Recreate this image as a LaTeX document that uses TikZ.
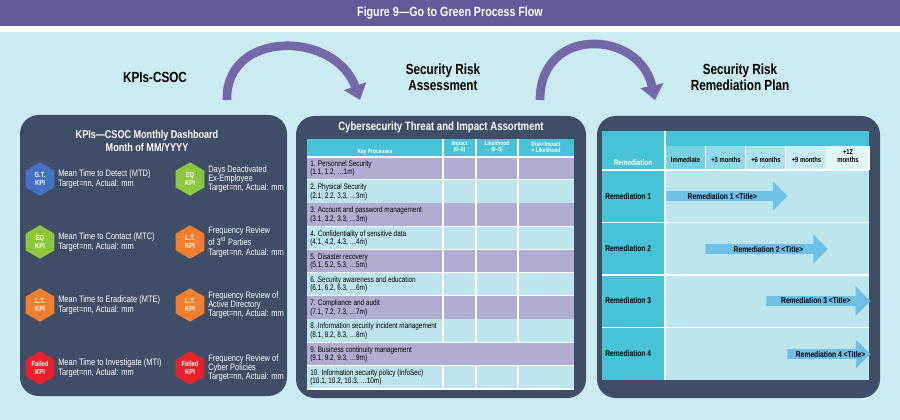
\documentclass[tikz,border=0pt]{standalone}
\usepackage{fontspec}
\setmainfont{Liberation Sans}[FakeStretch=0.8]
\usetikzlibrary{shapes.geometric,arrows.meta,shapes.arrows}
\definecolor{bgc}{HTML}{CDEBF2}
\definecolor{ttl}{HTML}{645A97}
\definecolor{pan}{HTML}{3F4E66}
\definecolor{cyh}{HTML}{48C2D6}
\definecolor{rowp}{HTML}{B1ADD0}
\definecolor{rowc}{HTML}{BDE5EE}
\definecolor{arrb}{HTML}{6EC0E6}
\definecolor{arcp}{HTML}{7468A8}
\definecolor{kblue}{HTML}{4472C4}
\definecolor{kgreen}{HTML}{8DC63F}
\definecolor{korange}{HTML}{F08030}
\definecolor{kred}{HTML}{E8202A}
\tikzset{
 hex/.style={regular polygon,regular polygon sides=6,shape border rotate=30,minimum size=25pt,inner sep=0pt,text=white,font=\bfseries\fontsize{5.5}{5.5}\selectfont,align=center},
 kt/.style={anchor=west,text=white,font=\fontsize{7}{7}\selectfont,align=left,inner sep=0pt},
 head/.style={font=\bfseries\fontsize{11}{12}\selectfont,align=center},
 panel/.style={fill=pan,rounded corners=14pt},
 rt/.style={anchor=west,font=\fontsize{6}{6.4}\selectfont,align=left,inner sep=0pt},
 ht/.style={font=\bfseries\fontsize{4.6}{4.6}\selectfont,align=center,text=white},
 bigarc/.style={line width=6.5pt,draw=arcp,-{Triangle[length=11pt,width=17pt]}},
 rem/.style={single arrow,fill=arrb,minimum height=#1,minimum width=22pt,single arrow head extend=5pt,single arrow head indent=0pt,inner sep=0pt,anchor=west,font=\bfseries\fontsize{6.3}{6.3}\selectfont},
 rl/.style={anchor=west,font=\bfseries\fontsize{6.3}{6.3}\selectfont,inner sep=0pt}
}
\begin{document}
\begin{tikzpicture}[x=0.75pt,y=-0.75pt]
\fill[bgc] (0,0) rectangle (900,420);
\useasboundingbox (0,0) rectangle (900,420);
\fill[white] (0,26) rectangle (900,32);
\fill[ttl] (0,0) rectangle (900,26);
\node[text=white,font=\bfseries\fontsize{10}{10}\selectfont] (title) at (450,13) {Figure 9—Go to Green Process Flow};
\node[head] (h1) at (155,77) {KPIs-CSOC};
\node[head] (h2) at (443,77) {Security Risk\\Assessment};
\node[head] (h3) at (740,77) {Security Risk\\Remediation Plan};
\coordinate (a1s) at (227,100); \coordinate (a1e) at (360,100);
\coordinate (a2s) at (540,100); \coordinate (a2e) at (655,100);
\draw[bigarc] (a1s) .. controls (225,30) and (335,30) .. (a1e);
\draw[bigarc] (a2s) .. controls (540,25) and (640,30) .. (a2e);
% left panel
\fill[panel] (20,115) rectangle (287,396);
\node[text=white,font=\bfseries\fontsize{8.5}{9.5}\selectfont,align=center] (lt) at (147,141) {KPIs—CSOC Monthly Dashboard\\Month of MM/YYYY};
\newcommand{\kpiA}[6]{\node[hex,fill=#4] (#1) at (#2,#3) {#5};\node[kt] (#1t) at (#2+18,#3) {#6};}
\kpiA{k1}{40}{179}{kblue}{G.T.\\KPI}{Mean Time to Detect (MTD)\\Target=nn, Actual: mm}
\kpiA{k2}{40}{242}{kgreen}{EQ\\KPI}{Mean Time to Contact (MTC)\\Target=nn, Actual: mm}
\kpiA{k3}{40}{305}{korange}{L.T.\\KPI}{Mean Time to Eradicate (MTE)\\Target=nn, Actual: mm}
\kpiA{k4}{40}{368}{kred}{Failed\\KPI}{Mean Time to Investigate (MTI)\\Target=nn, Actual: mm}
\kpiA{k5}{190}{179}{kgreen}{EQ\\KPI}{Days Deactivated\\Ex-Employee\\Target=nn, Actual: mm}
\kpiA{k6}{190}{242}{korange}{L.T.\\KPI}{Frequency Review\\of 3\textsuperscript{rd} Parties\\Target=nn, Actual: mm}
\kpiA{k7}{190}{305}{korange}{L.T.\\KPI}{Frequency Review of\\Active Directory\\Target=nn, Actual: mm}
\kpiA{k8}{190}{368}{kred}{Failed\\KPI}{Frequency Review of\\Cyber Policies\\Target=nn, Actual: mm}
% middle panel
\fill[panel] (296,116) rectangle (586,398);
\node[text=white,font=\bfseries\fontsize{9}{9}\selectfont] (mt) at (441,127) {Cybersecurity Threat and Impact Assortment};
\fill[cyh] (307,139) rectangle (574,157);
\node[ht] (c1) at (375,152) {Key Processes};
\node[ht] (c2) at (459.5,147) {Impact\\(0–6)};
\node[ht] (c3) at (497,147) {Likelihood\\(0–5)};
\node[ht] (c4) at (546,147) {Risk=Impact\\× Likelihood};
\foreach \i [count=\n] in {
 {1. Personnel Security\\(1.1, 1.2, \dots1m)},
 {2. Physical Security\\(2.1, 2.2, 3.3, \dots3m)},
 {3. Account and password management\\(3.1, 3.2, 3.3, \dots3m)},
 {4. Confidentiality of sensitive data\\(4.1, 4.2, 4.3, \dots4m)},
 {5. Disaster recovery\\(5.1, 5.2, 5.3, \dots5m)},
 {6. Security awareness and education\\(6.1, 6.2, 6.3, \dots6m)},
 {7. Compliance and audit\\(7.1, 7.2, 7.3, \dots7m)},
 {8. Information security incident management\\(8.1, 8.2, 8.3, \dots8m)},
 {9. Business continuity management\\(9.1, 9.2, 9.3, \dots9m)},
 {10. Information security policy (InfoSec)\\(10.1, 10.2, 10.3, \dots10m)}}{
 \pgfmathsetmacro{\ya}{157+(\n-1)*23.2}
 \pgfmathsetmacro{\yb}{\ya+23.2}
 \pgfmathtruncatemacro{\odd}{mod(\n,2)}
 \ifnum\odd=1 \fill[rowp] (307,\ya) rectangle (574,\yb); \else \fill[rowc] (307,\ya) rectangle (574,\yb); \fi
 \node[rt] (r\n) at (310,\ya+11.6) {\i};
 \draw[white,line width=1.2pt] (307,\yb) -- (574,\yb);
 \ifnum\n=9 \else
 \draw[white,line width=1.2pt] (443,\ya) -- (443,\yb) (476,\ya) -- (476,\yb) (518,\ya) -- (518,\yb);
 \fi
}
\draw[white,line width=1.2pt] (443,139) -- (443,157) (476,139) -- (476,157) (518,139) -- (518,157) (307,157) -- (574,157);
% right panel
\fill[panel] (597,116) rectangle (880,398);
\fill[rowc] (602,131) rectangle (869,380);
\fill[cyh] (602,131) rectangle (869,146);
\fill[cyh] (602,131) rectangle (665,380);
\foreach \xa/\xb/\c/\t [count=\n] in {665/706/75/Immediate,706/746/60/+3 months,746/786/45/+6 months,786/827/30/+9 months,827/869/15/{+12\\months}}{
 \fill[cyh!\c!white] (\xa,146) rectangle (\xb,170);
 \node[font=\bfseries\fontsize{5.5}{6}\selectfont,align=center,anchor=south] (m\n) at ({(\xa+\xb)/2},167) {\t};
 \draw[white,line width=0.8pt] (\xb,146) -- (\xb,170);
}
\node[text=white,font=\bfseries\fontsize{6}{6}\selectfont] (rh) at (633,163) {Remediation};
\draw[white,line width=1.2pt] (665,131) -- (665,380);
\foreach \n in {1,2,3,4}{
 \pgfmathsetmacro{\ya}{170+(\n-1)*52.5}
 \draw[white,line width=1.2pt] (602,\ya) -- (869,\ya);
 \node[rl] (rr\n) at (605,\ya+26) {Remediation \n};
}
\node[rem=91pt] (ra1) at (666,196) {\hspace*{1.5em}Remediation 1 <Title>\hspace*{2em}};
\node[rem=92pt] (ra2) at (705,249) {\hspace*{2em}Remediation 2 <Title>\hspace*{1em}};
\node[rem=78pt] (ra3) at (766,301) {Remediation 3 <Title>};
\node[rem=62pt] (ra4) at (787,354) {\hspace*{1em}Remediation 4 <Title>};
\end{tikzpicture}
\end{document}
